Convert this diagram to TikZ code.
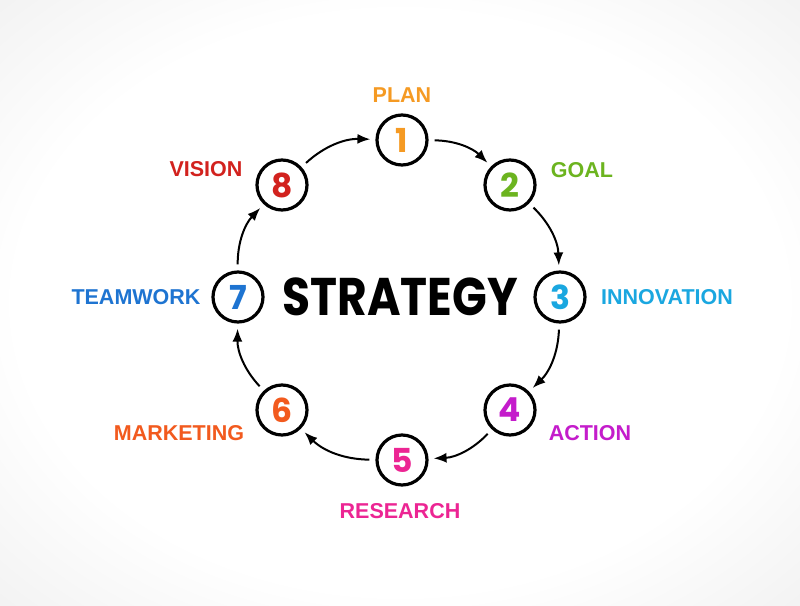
\documentclass[tikz,border=0pt]{standalone}
\usepackage{fontspec}
\setmainfont{Liberation Sans}
\newfontfamily\numfont{Poppins}
\usetikzlibrary{arrows.meta}
\definecolor{cPlan}{HTML}{F59A23}
\definecolor{cGoal}{HTML}{6CB41F}
\definecolor{cInno}{HTML}{1AA7E0}
\definecolor{cAct}{HTML}{C41CCB}
\definecolor{cRes}{HTML}{EC2593}
\definecolor{cMkt}{HTML}{F25A1E}
\definecolor{cTeam}{HTML}{1E74D1}
\definecolor{cVis}{HTML}{D2221E}
\pgfdeclareradialshading{bgshade}{\pgfpoint{0bp}{0bp}}{color(0bp)=(white); color(24bp)=(white); color(50bp)=(black!11); color(72bp)=(black!19)}
\begin{document}
\begin{tikzpicture}[x=1pt,y=1pt,
  stepnum/.style={circle, draw=black, line width=3.2pt, minimum size=50pt, inner sep=0pt,
    font=\numfont\bfseries\fontsize{33}{33}\selectfont},
  lbl/.style={font=\bfseries\fontsize{21.5}{21.5}\selectfont},
  flow/.style={-{Latex[length=13pt,width=10pt]}, line width=2pt, shorten <=6pt, shorten >=5pt, bend left=22}]
\shade[shading=bgshade] (0,0) rectangle (800,-605);
\useasboundingbox (0,0) rectangle (800,-605);

\node[stepnum, text=cPlan] (n1) at (402,-140) {1};
\node[stepnum, text=cGoal] (n2) at (510,-185) {2};
\node[stepnum, text=cInno] (n3) at (560,-297) {3};
\node[stepnum, text=cAct]  (n4) at (510,-410) {4};
\node[stepnum, text=cRes]  (n5) at (402,-460) {5};
\node[stepnum, text=cMkt]  (n6) at (282,-410) {6};
\node[stepnum, text=cTeam] (n7) at (238,-297) {7};
\node[stepnum, text=cVis]  (n8) at (282,-185) {8};

\node[lbl, text=cPlan] (l1) at (402,-95) {PLAN};
\node[lbl, text=cGoal] (l2) at (582,-170) {GOAL};
\node[lbl, text=cInno] (l3) at (667,-297) {INNOVATION};
\node[lbl, text=cAct]  (l4) at (590,-433) {ACTION};
\node[lbl, text=cRes]  (l5) at (400,-511) {RESEARCH};
\node[lbl, text=cMkt]  (l6) at (179,-433) {MARKETING};
\node[lbl, text=cTeam] (l7) at (136,-297) {TEAMWORK};
\node[lbl, text=cVis]  (l8) at (206,-169) {VISION};

\node[font=\numfont\bfseries\fontsize{53}{53}\selectfont] (s) at (400,-297) {\scalebox{0.86}[1]{STRATEGY}};

\draw[flow] (n8) to (n1);
\draw[flow] (n1) to (n2);
\draw[flow] (n2) to (n3);
\draw[flow] (n3) to (n4);
\draw[flow] (n4) to (n5);
\draw[flow] (n5) to (n6);
\draw[flow] (n6) to (n7);
\draw[flow] (n7) to (n8);
\end{tikzpicture}
\end{document}
